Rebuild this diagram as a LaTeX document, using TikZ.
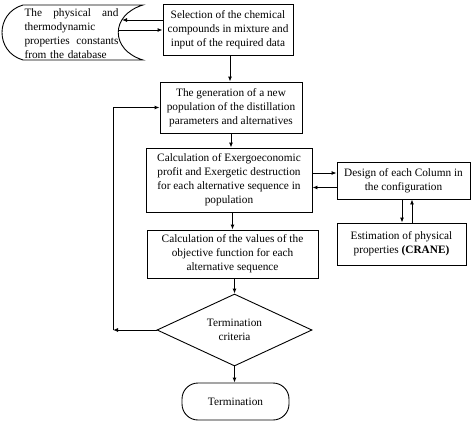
\documentclass[tikz,border=0pt]{standalone}
\usepackage{fontspec}
\setmainfont{Liberation Serif}
\usetikzlibrary{arrows.meta,shapes.geometric,calc}
\begin{document}
\begin{tikzpicture}[x=1pt,y=-1pt,
  every node/.style={font=\fontsize{11.3}{14}\selectfont, inner sep=0pt},
  box/.style={draw, line width=0.9pt, align=center},
  arr/.style={-{Latex[length=5pt,width=4pt]}, line width=0.9pt},
  line width=0.9pt]
\useasboundingbox (0,0) rectangle (474,434);
% stored data
\draw (23,5) -- (143,5) .. controls (110,15) and (110,50) .. (143,60) -- (23,60)
  .. controls (-5,52) and (-5,13) .. (23,5);
\node[text width=94pt, align=left] (db) at (71.5,33.5)
  {The\hfill physical\hfill and\\thermodynamic\\properties\hfill constants\\from the database};
\coordinate (dbin) at (122,20);
\coordinate (dbout) at (119,30);
% boxes
\node[box, minimum width=130pt, minimum height=51pt] (sel) at (228,29.5)
  {Selection of the chemical\\compounds in mixture and\\input of the required data};
\node[box, minimum width=142pt, minimum height=51pt] (gen) at (231,107.5)
  {The generation of a new\\population of the distillation\\parameters and alternatives};
\node[box, minimum width=166pt, minimum height=64pt] (calc) at (229,180)
  {Calculation of Exergoeconomic\\profit and Exergetic destruction\\for each alternative sequence in\\population};
\node[box, minimum width=133pt, minimum height=37pt] (design) at (403.5,180.5)
  {Design of each Column in\\the configuration};
\node[box, minimum width=129pt, minimum height=42pt] (est) at (401.5,244)
  {Estimation of physical\\properties \textbf{(CRANE)}};
\node[box, minimum width=171pt, minimum height=48pt] (obj) at (232.5,254)
  {Calculation of the values of the\\objective function for each\\alternative sequence};
\node[box, diamond, aspect=2.15, minimum width=155pt, minimum height=72pt] (dia) at (234.5,330)
  {Termination\\criteria};
\node[box, rounded corners=16pt, minimum width=107pt, minimum height=37pt] (term) at (235.5,401.5)
  {Termination};
\coordinate (loop) at (113,330);
% connectors
\draw[arr] ([yshift=9.5pt]sel.west) -- (dbin);
\draw[arr] (dbout) -- (sel.west |- dbout);
\draw[arr] ([xshift=2pt]sel.south) -- ([xshift=2pt]sel.south |- gen.north);
\draw[arr] (gen.south) -- (gen.south |- calc.north);
\draw[arr] (obj.north |- calc.south) -- (obj.north);
\draw[arr] ([yshift=7pt]calc.east) -- ([yshift=7pt]calc.east -| design.west);
\draw[arr] ([yshift=-7pt]design.west) -- ([yshift=-7pt]design.west -| calc.east);
\draw[arr] ([xshift=-1.5pt]design.south) -- ([xshift=-1.5pt]design.south |- est.north);
\draw[arr] ([xshift=10.5pt]est.north) -- ([xshift=10.5pt]est.north |- design.south);
\draw[arr] (dia.north |- obj.south) -- (dia.north);
\draw[arr] (dia.south) -- (dia.south |- term.north);
\draw[arr] (dia.west) -- (loop);
\draw[arr] (loop) |- (gen.west);
\end{tikzpicture}
\end{document}
